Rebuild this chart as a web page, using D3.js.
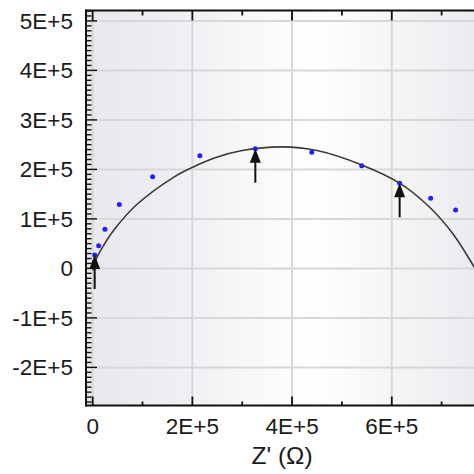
<!DOCTYPE html>
<html>
<head>
<meta charset="utf-8">
<script src="https://cdn.jsdelivr.net/npm/d3@7"></script>
<style>
  html, body { margin: 0; padding: 0; background: #fff; }
  svg { display: block; font-family: "Liberation Sans", Arial, sans-serif; }
</style>
</head>
<body>
<svg width="474" height="474"></svg>
<script>
// measured points (Z', Z'')
const zReal = [4000, 12000, 24600, 53400, 120200, 215000, 326300, 439500, 539700, 615800, 678000, 728100];
const zImag = [27000, 45900, 79000, 129300, 185300, 227700, 241800, 234500, 207500, 171900, 141600, 118000];

// fitted curve
const fitReal = [0, 3200, 9000, 21300, 43400, 86900, 163700, 201800, 247300, 300000, 380000, 450000, 539700, 615800, 676000, 722600, 764100, 776000];
const fitImag = [-4000, 7000, 23000, 45500, 78500, 127500, 185000, 205000, 224000, 238000, 245500, 238000, 209000, 172200, 123500, 70000, 4800, -17000];

// arrows mark these points
const arrowReal = [4000, 326300, 615800];
const arrowImag = [27000, 241800, 171900];

const xTicks = [0, 200000, 400000, 600000];
const xTickLabels = ["0", "2E+5", "4E+5", "6E+5"];
const yTicks = [-200000, -100000, 0, 100000, 200000, 300000, 400000, 500000];
const yTickLabels = ["-2E+5", "-1E+5", "0", "1E+5", "2E+5", "3E+5", "4E+5", "5E+5"];
const xTitle = "Z' (Ω)";

const pl = 86, pr = 478, pt = 10.5, pb = 405.5;

const x = d3.scaleLinear().domain([-13400, 773000]).range([pl, pr]);
const y = d3.scaleLinear().domain([-277000, 521000]).range([pb, pt]);

const svg = d3.select("svg");

const grad = svg.append("defs").append("linearGradient")
    .attr("id", "bg").attr("x1", "0").attr("x2", "1").attr("y1", "0").attr("y2", "0");
grad.append("stop").attr("offset", "0%").attr("stop-color", "#e8e8ed");
grad.append("stop").attr("offset", "20%").attr("stop-color", "#eeeef2");
grad.append("stop").attr("offset", "58%").attr("stop-color", "#ffffff");
grad.append("stop").attr("offset", "100%").attr("stop-color", "#ebebef");

svg.append("rect")
    .attr("x", pl).attr("y", pt)
    .attr("width", pr - pl).attr("height", pb - pt)
    .attr("fill", "url(#bg)");

// grid
svg.append("g")
    .attr("stroke", "#d8d8da")
    .attr("stroke-width", 2)
    .selectAll("line")
    .data(xTicks)
    .join("line")
    .attr("x1", d => x(d)).attr("x2", d => x(d))
    .attr("y1", pt).attr("y2", pb);

svg.append("g")
    .attr("stroke", "#d8d8da")
    .attr("stroke-width", 2)
    .selectAll("line")
    .data(yTicks)
    .join("line")
    .attr("x1", pl).attr("x2", pr)
    .attr("y1", d => y(d)).attr("y2", d => y(d));

// fit curve
const line = d3.line()
    .x(d => x(d[0]))
    .y(d => y(d[1]))
    .curve(d3.curveCatmullRom.alpha(0.5));

svg.append("path")
    .datum(d3.zip(fitReal, fitImag))
    .attr("fill", "none")
    .attr("stroke", "#3a3a3a")
    .attr("stroke-width", 1.6)
    .attr("d", line);

// data points
svg.append("g")
    .attr("fill", "#1f1fff")
    .selectAll("circle")
    .data(d3.zip(zReal, zImag))
    .join("circle")
    .attr("cx", d => x(d[0]))
    .attr("cy", d => y(d[1]))
    .attr("r", 2.5);

// arrows
const arrows = svg.append("g")
    .selectAll("g")
    .data(d3.zip(arrowReal, arrowImag))
    .join("g")
    .attr("transform", d => `translate(${x(d[0])},${y(d[1])})`);

arrows.append("line")
    .attr("x1", 0).attr("x2", 0)
    .attr("y1", 10).attr("y2", 34)
    .attr("stroke", "#111")
    .attr("stroke-width", 2);

arrows.append("path")
    .attr("d", "M0,0 L-5.5,14 L5.5,14 Z")
    .attr("fill", "#111");

// axes frame
const frame = svg.append("g").attr("stroke", "#111").attr("stroke-width", 2);
frame.append("line").attr("x1", pl).attr("x2", 474).attr("y1", pt).attr("y2", pt);
frame.append("line").attr("x1", pl).attr("x2", 474).attr("y1", pb).attr("y2", pb);
frame.append("line").attr("x1", pl).attr("x2", pl).attr("y1", pt - 1).attr("y2", pb + 1);

// y ticks: minor every 1E4, major every 1E5
const yMinor = d3.range(-270000, 521000, 10000);
svg.append("g")
    .attr("stroke", "#111")
    .attr("stroke-width", 1.4)
    .selectAll("line")
    .data(yMinor)
    .join("line")
    .attr("x1", pl).attr("x2", d => (Math.abs(d % 100000) < 1 ? pl + 11 : pl + 5.5))
    .attr("y1", d => y(d)).attr("y2", d => y(d));

// x ticks top and bottom
const xMinor = d3.range(0, 773000, 100000);
svg.append("g")
    .attr("stroke", "#111").attr("stroke-width", 1.8)
    .selectAll("line")
    .data(xMinor)
    .join("line")
    .attr("x1", d => x(d)).attr("x2", d => x(d))
    .attr("y1", pb).attr("y2", d => pb - (d % 200000 === 0 ? 9 : 4));
svg.append("g")
    .attr("stroke", "#111").attr("stroke-width", 1.8)
    .selectAll("line")
    .data(xMinor)
    .join("line")
    .attr("x1", d => x(d)).attr("x2", d => x(d))
    .attr("y1", pt).attr("y2", d => pt + (d % 200000 === 0 ? 10 : 5));

// tick labels
svg.append("g")
    .attr("font-size", 22.5)
    .attr("fill", "#1a1a1a")
    .attr("text-anchor", "end")
    .selectAll("text")
    .data(yTicks)
    .join("text")
    .attr("x", 73)
    .attr("y", d => y(d))
    .attr("dy", "0.36em")
    .text((d, i) => yTickLabels[i]);

svg.append("g")
    .attr("font-size", 22.5)
    .attr("fill", "#1a1a1a")
    .attr("text-anchor", "middle")
    .selectAll("text")
    .data(xTicks)
    .join("text")
    .attr("x", d => x(d))
    .attr("y", 433.5)
    .text((d, i) => xTickLabels[i]);

svg.append("text")
    .attr("x", 282)
    .attr("y", 463.5)
    .attr("font-size", 24.5)
    .attr("fill", "#1a1a1a")
    .attr("text-anchor", "middle")
    .text(xTitle);
</script>
</body>
</html>
